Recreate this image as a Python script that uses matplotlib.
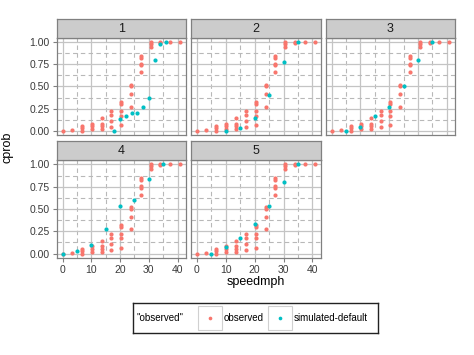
import matplotlib

matplotlib.use("Agg")
import matplotlib.pyplot as plt
from matplotlib.patches import Rectangle

# observed points (same in every panel), one list per speed column
obs_speed = [0, 3.4, 6.8, 10.2, 13.6, 17.0, 20.4, 23.8, 27.2, 30.6, 34.0, 37.4, 40.8]
obs_cprob = [
    [0.0],
    [0.01],
    [0.0, 0.025, 0.05],
    [0.02, 0.05, 0.08],
    [0.02, 0.05, 0.08, 0.145],
    [0.045, 0.105, 0.175, 0.225],
    [0.06, 0.17, 0.22, 0.30, 0.32],
    [0.27, 0.41, 0.50, 0.52],
    [0.66, 0.74, 0.76, 0.82, 0.85],
    [0.95, 0.98, 1.0],
    [0.99, 1.0],
    [1.0],
    [1.0],
]

# simulated-default points per panel
sim1_speed = [18, 20, 22, 24, 26, 28, 30, 32, 34, 36]
sim1_cprob = [0.0, 0.135, 0.17, 0.20, 0.20, 0.27, 0.37, 0.80, 0.98, 1.0]
sim2_speed = [10, 15, 20, 25, 30, 35]
sim2_cprob = [0.0, 0.035, 0.14, 0.40, 0.78, 1.0]
sim3_speed = [5, 10, 15, 20, 25, 30, 35]
sim3_cprob = [0.0, 0.04, 0.17, 0.27, 0.51, 0.80, 1.0]
sim4_speed = [0, 5, 10, 15, 20, 25, 30, 35]
sim4_cprob = [0.0, 0.03, 0.10, 0.27, 0.53, 0.60, 0.84, 1.0]
sim5_speed = [5, 10, 15, 20, 25, 30, 35]
sim5_cprob = [0.0, 0.07, 0.17, 0.33, 0.535, 0.80, 1.0]

panels = ["1", "2", "3", "4", "5"]
sim_speed = [sim1_speed, sim2_speed, sim3_speed, sim4_speed, sim5_speed]
sim_cprob = [sim1_cprob, sim2_cprob, sim3_cprob, sim4_cprob, sim5_cprob]

RED = "#F8766D"
TEAL = "#00BFC4"
GRID = "#C4C4C4"
EDGE = "#808080"
TXT = "#3A3A3A"

W, H = 474, 355
plt.rcParams["font.family"] = ["Liberation Sans", "DejaVu Sans"]

fig = plt.figure(figsize=(W / 100, H / 100), dpi=100)


def px_axes(left, top, right, bottom):
    return fig.add_axes([left / W, 1 - bottom / H, (right - left) / W, (bottom - top) / H])


cols = [(56.7, 185.7), (190.7, 320.7), (325.7, 455.0)]
rows = [(19, 38, 135), (141, 160, 258)]  # strip top, panel top, panel bottom

obs_x = [x for x, ys in zip(obs_speed, obs_cprob) for _ in ys]
obs_y = [y for ys in obs_cprob for y in ys]

for i, name in enumerate(panels):
    r, c = divmod(i, 3)
    left, right = cols[c]
    stop, ptop, pbot = rows[r]

    ax = px_axes(left, ptop, right, pbot)
    ax.set_xlim(-2.04, 42.84)
    ax.set_ylim(-0.05, 1.05)
    ax.set_xticks([0, 10, 20, 30, 40])
    ax.set_xticks([5, 15, 25, 35], minor=True)
    ax.set_yticks([0, 0.25, 0.5, 0.75, 1.0])
    ax.set_yticks([0.125, 0.375, 0.625, 0.875], minor=True)
    ax.grid(which="major", color=GRID, lw=0.9, ls="-")
    ax.grid(which="minor", color="#B8B8B8", lw=0.8, ls=(0, (4, 3)))
    ax.set_axisbelow(True)
    for s in ax.spines.values():
        s.set_color(EDGE)
        s.set_linewidth(0.9)

    ax.scatter(obs_x, obs_y, s=9, color=RED, lw=0, zorder=3)
    ax.scatter(sim_speed[i], sim_cprob[i], s=9, color=TEAL, lw=0, zorder=4)

    ax.tick_params(which="minor", length=0)
    ax.tick_params(which="major", color=EDGE, length=3, width=0.8,
                   labelsize=7.5, labelcolor=TXT, pad=2)
    if c == 0:
        ax.set_yticklabels(["0.00", "0.25", "0.50", "0.75", "1.00"])
    else:
        ax.tick_params(axis="y", length=0, labelleft=False)
    if r != 1:
        ax.tick_params(axis="x", length=0, labelbottom=False)

    sax = px_axes(left, stop, right, ptop)
    sax.set_facecolor("#CCCCCC")
    sax.set_xticks([])
    sax.set_yticks([])
    for s in sax.spines.values():
        s.set_color(EDGE)
        s.set_linewidth(0.9)
    sax.text(0.5, 0.48, name, ha="center", va="center", fontsize=9, color="#1A1A1A",
             transform=sax.transAxes)

fig.text(255.8 / W, 1 - 282 / H, "speedmph", ha="center", va="center", fontsize=9, color="black")
fig.text(8 / W, 1 - 147 / H, "cprob", ha="center", va="center", rotation=90, fontsize=9,
         color="black")

# legend
lax = px_axes(132.7, 302.7, 377.7, 332.7)
lax.set_xlim(132.7, 377.7)
lax.set_ylim(332.7, 302.7)
lax.set_xticks([])
lax.set_yticks([])
for s in lax.spines.values():
    s.set_color("#222222")
    s.set_linewidth(1.0)
lax.text(137, 317.7, '"observed"', ha="left", va="center", fontsize=7, color="black")
for kx, col, label in [(198, RED, "observed"), (268, TEAL, "simulated-default")]:
    lax.add_patch(Rectangle((kx, 305.5), 24, 24, facecolor="white", edgecolor="#D0D0D0", lw=0.8))
    lax.scatter([kx + 12], [317.5], s=7, color=col, lw=0, zorder=3)
    lax.text(kx + 26, 317.7, label, ha="left", va="center", fontsize=7, color="black")

fig.savefig("out.png", dpi=100, facecolor="white")
